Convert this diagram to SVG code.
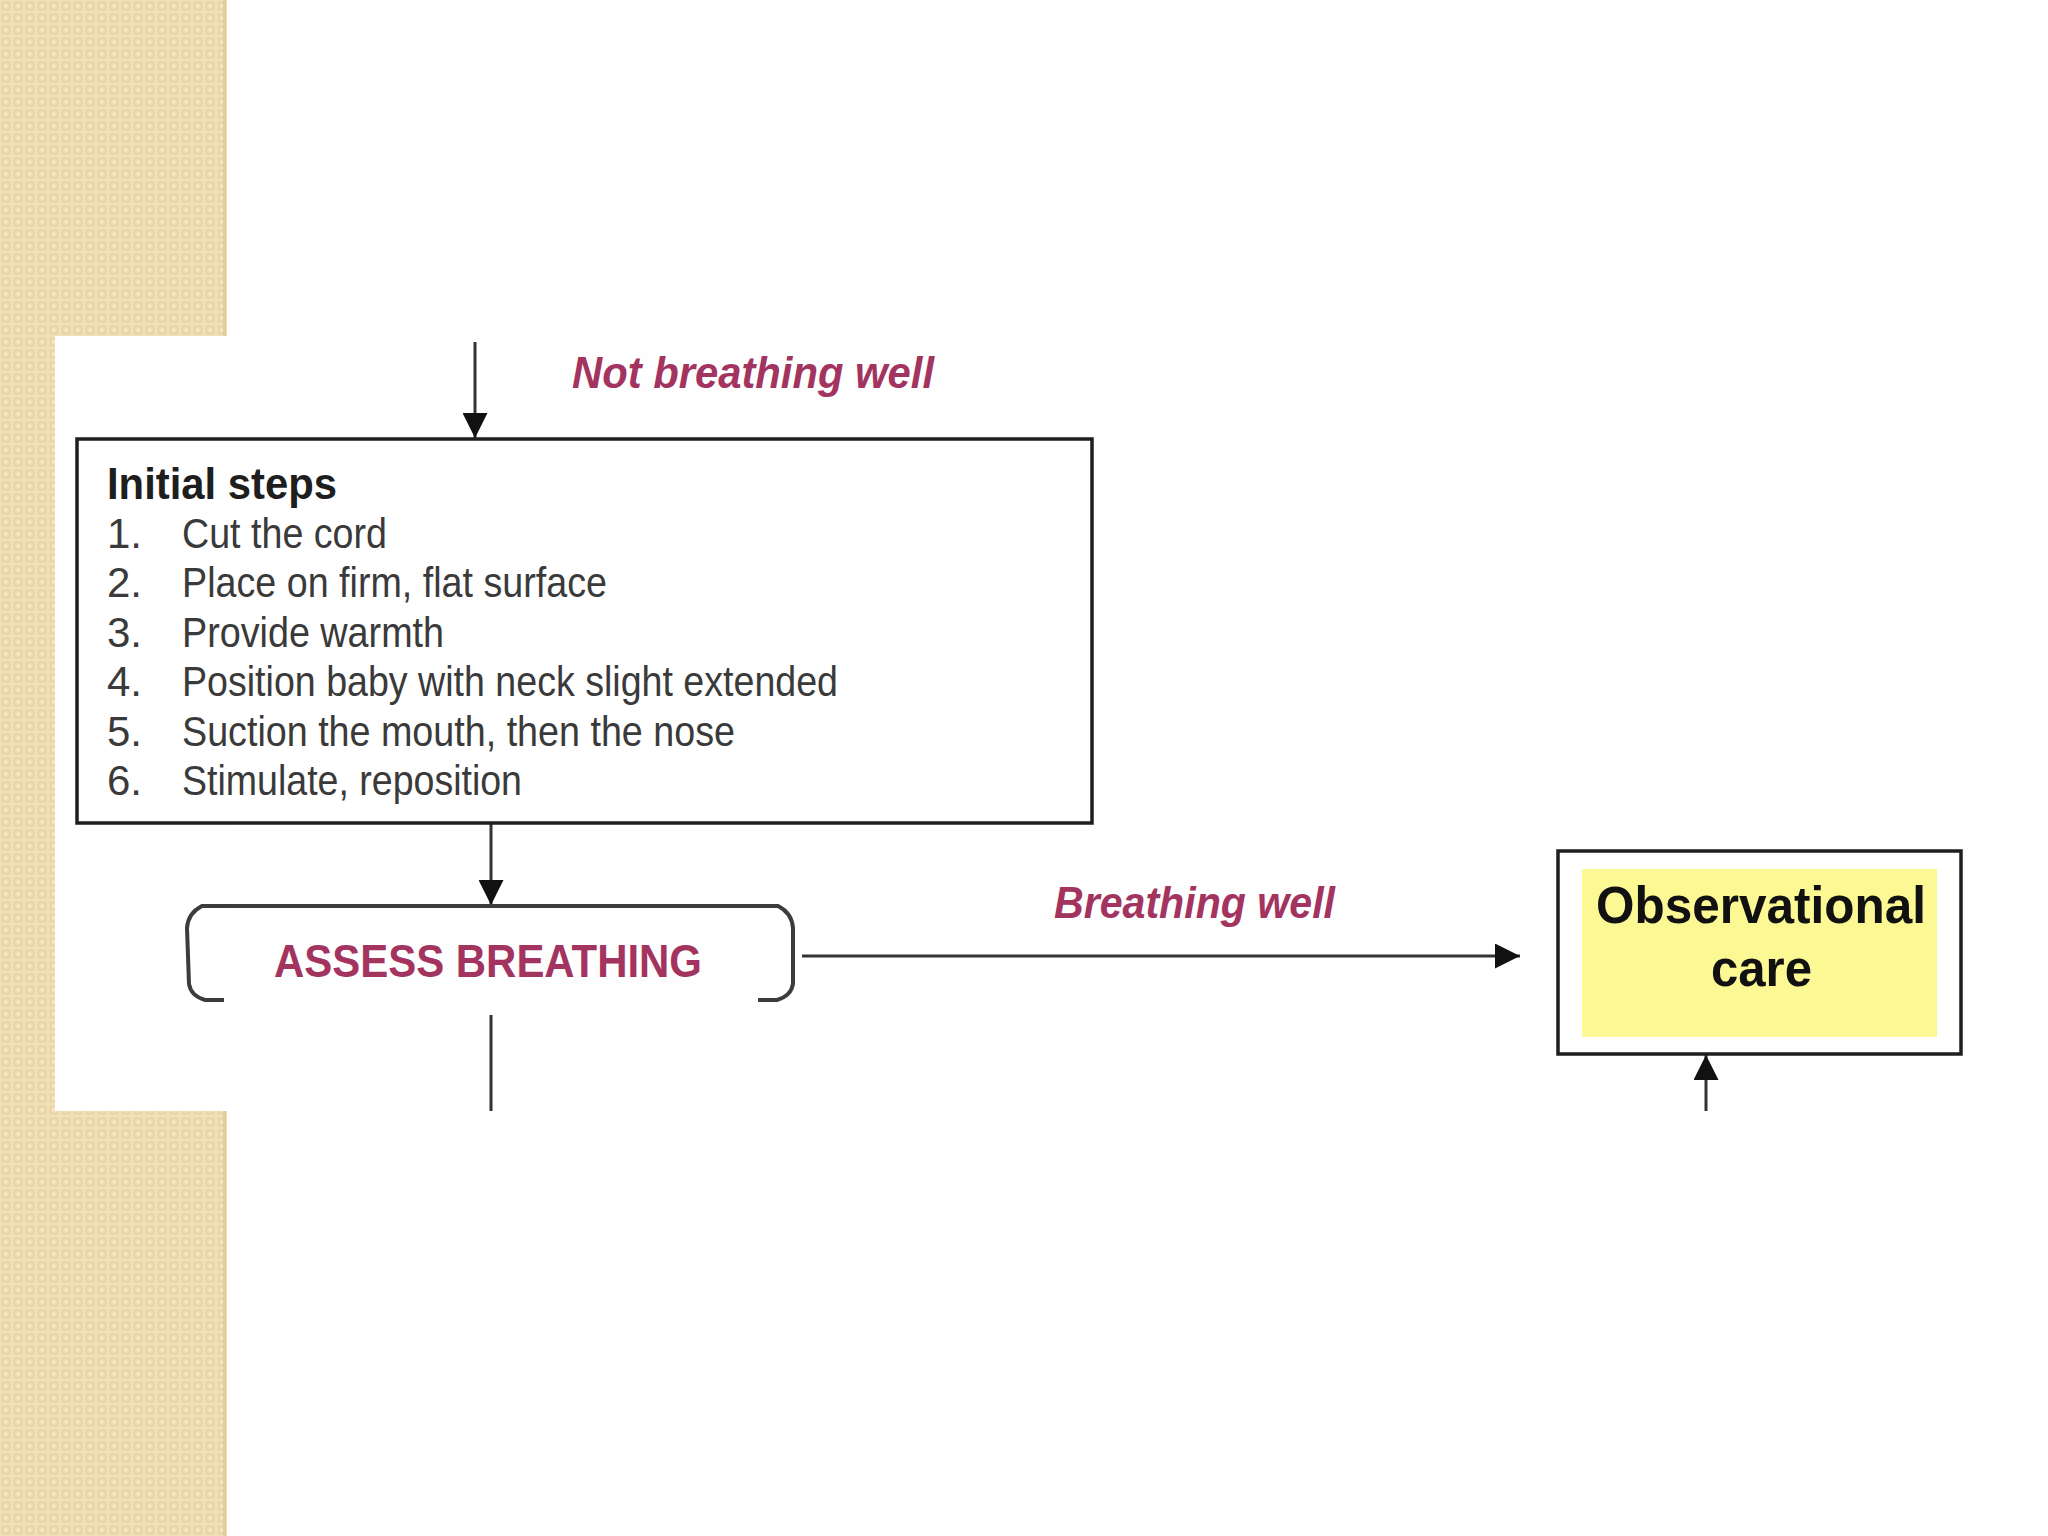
<svg xmlns="http://www.w3.org/2000/svg" width="2048" height="1536" viewBox="0 0 2048 1536">
<defs>
  <pattern id="weave" x="0" y="0" width="12" height="12" patternUnits="userSpaceOnUse">
    <rect width="12" height="12" fill="#f1dfb6"/>
    <rect x="2.5" y="2.5" width="7" height="7" fill="none" stroke="#e5d0a2" stroke-width="1.3"/>
    <rect x="5" y="5" width="2" height="2" fill="#f7ead0"/>
  </pattern>
  <marker id="arrow" viewBox="0 0 10 10" refX="10" refY="5" markerWidth="25" markerHeight="25" markerUnits="userSpaceOnUse" orient="auto">
    <path d="M0,0 L10,5 L0,10 z" fill="#111"/>
  </marker>
  <style>
    .conn { stroke: #333; stroke-width: 3; fill: none; }
    .lbl { font-family: "Liberation Sans", Arial, sans-serif; font-weight: bold; font-style: italic; fill: #a3335f; }
    .item { font-family: "Liberation Sans", Arial, sans-serif; font-size: 42px; fill: #3a3a3a; }
    .head { font-family: "Liberation Sans", Arial, sans-serif; font-size: 44px; font-weight: bold; fill: #1e1e1e; }
    .box { fill: #ffffff; stroke: #1e1e1e; stroke-width: 3.5; }
  </style>
</defs>

<!-- background -->
<rect x="0" y="0" width="2048" height="1536" fill="#fefefe"/>
<rect x="0" y="0" width="227" height="1536" fill="url(#weave)"/>
<line x1="224.5" y1="0" x2="224.5" y2="1536" stroke="#e2cc9a" stroke-width="3"/>
<rect x="55" y="336" width="173" height="775" fill="#ffffff"/>

<!-- connectors -->
<g id="connectors">
  <line class="conn" x1="475" y1="342" x2="475" y2="438" marker-end="url(#arrow)"/>
  <line class="conn" x1="491" y1="824" x2="491" y2="905" marker-end="url(#arrow)"/>
  <line class="conn" x1="802" y1="956" x2="1520" y2="956" stroke="#555" marker-end="url(#arrow)"/>
  <line class="conn" x1="491" y1="1015" x2="491" y2="1111" stroke="#555"/>
  <line class="conn" x1="1706" y1="1111" x2="1706" y2="1055" marker-end="url(#arrow)"/>
  <text class="lbl" x="572" y="388" font-size="44" textLength="362" lengthAdjust="spacingAndGlyphs">Not breathing well</text>
  <text class="lbl" x="1054" y="918" font-size="44" textLength="281" lengthAdjust="spacingAndGlyphs">Breathing well</text>
</g>

<!-- Initial steps node -->
<g id="initial-steps">
  <rect class="box" x="77" y="439" width="1015" height="384"/>
  <text class="head" x="107" y="499" textLength="230" lengthAdjust="spacingAndGlyphs">Initial steps</text>
  <text class="item" x="107" y="548">1.</text>
  <text class="item" x="182" y="548" textLength="205" lengthAdjust="spacingAndGlyphs">Cut the cord</text>
  <text class="item" x="107" y="597">2.</text>
  <text class="item" x="182" y="597" textLength="425" lengthAdjust="spacingAndGlyphs">Place on firm, flat surface</text>
  <text class="item" x="107" y="647">3.</text>
  <text class="item" x="182" y="647" textLength="262" lengthAdjust="spacingAndGlyphs">Provide warmth</text>
  <text class="item" x="107" y="696">4.</text>
  <text class="item" x="182" y="696" textLength="656" lengthAdjust="spacingAndGlyphs">Position baby with neck slight extended</text>
  <text class="item" x="107" y="746">5.</text>
  <text class="item" x="182" y="746" textLength="553" lengthAdjust="spacingAndGlyphs">Suction the mouth, then the nose</text>
  <text class="item" x="107" y="795">6.</text>
  <text class="item" x="182" y="795" textLength="340" lengthAdjust="spacingAndGlyphs">Stimulate, reposition</text>
</g>

<!-- Assess breathing node -->
<g id="assess-breathing">
  <path d="M224,1000 L205,1000 Q191,996 189,984 L187,928 Q188,913 202,906 L778,906 Q792,913 793,928 L793,984 Q791,996 777,1000 L758,1000" fill="none" stroke="#3c3c3c" stroke-width="4"/>
  <text x="274" y="977" font-family="Liberation Sans, Arial, sans-serif" font-size="46" font-weight="bold" fill="#a3335f" textLength="428" lengthAdjust="spacingAndGlyphs">ASSESS BREATHING</text>
</g>

<!-- Observational care node -->
<g id="observational-care">
  <rect class="box" x="1558" y="851" width="403" height="203"/>
  <rect x="1582" y="869" width="355" height="168" fill="#fcf995"/>
  <text x="1596" y="923" font-family="Liberation Sans, Arial, sans-serif" font-size="52" font-weight="bold" fill="#111" textLength="330" lengthAdjust="spacingAndGlyphs">Observational</text>
  <text x="1711" y="986" font-family="Liberation Sans, Arial, sans-serif" font-size="52" font-weight="bold" fill="#111" textLength="101" lengthAdjust="spacingAndGlyphs">care</text>
</g>
</svg>
